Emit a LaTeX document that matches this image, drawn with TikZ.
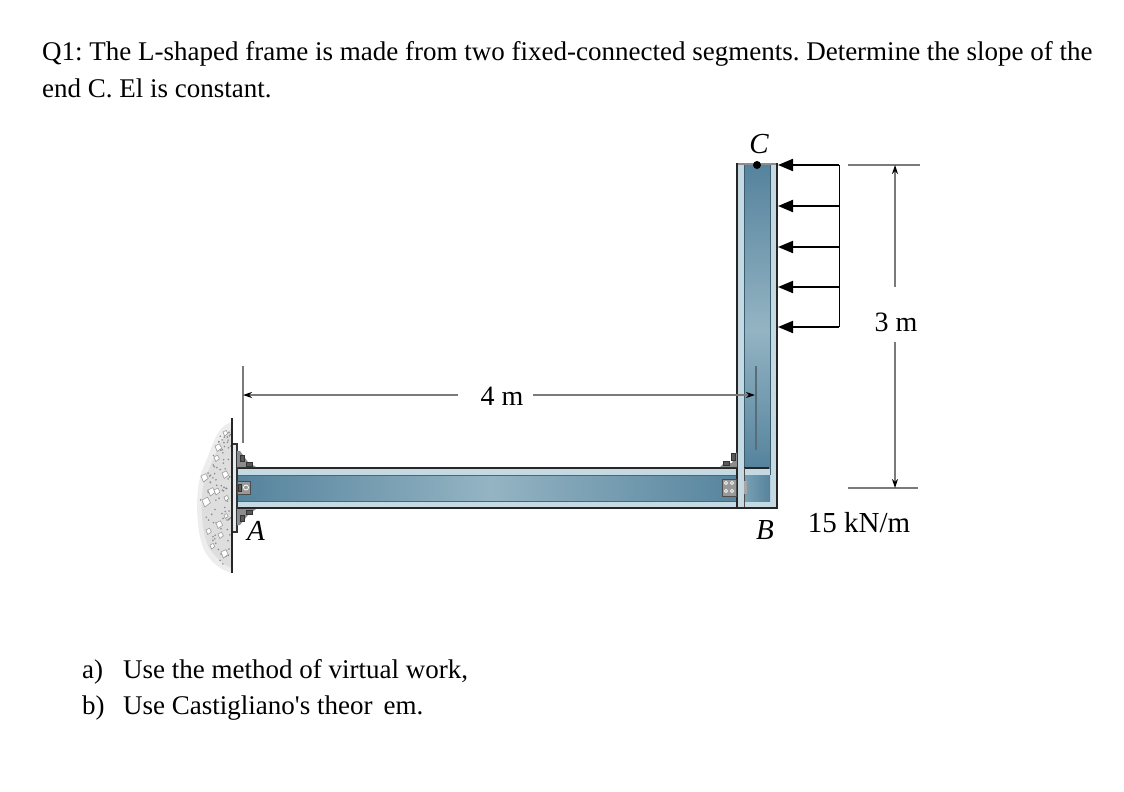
\documentclass[tikz,border=0pt]{standalone}
\usepackage{fontspec}
\setmainfont{Liberation Serif}
\newfontfamily\straightfont{Liberation Serif}
\frenchspacing
\usetikzlibrary{positioning,arrows.meta,calc,shapes.geometric}

\definecolor{webdark}{HTML}{55839D}
\definecolor{weblight}{HTML}{94B4C3}
\definecolor{flange}{HTML}{C5D9E2}
\definecolor{dimgray}{HTML}{7A7A7A}
\definecolor{rockgray}{HTML}{D8D8D8}

\newcommand{\itemlab}[1]{\makebox[41pt][l]{#1}}

\tikzset{
    txt/.style={inner sep=0pt, anchor=base west, font=\fontsize{27pt}{30pt}\selectfont},
    lbl/.style={inner sep=0pt, font=\fontsize{28pt}{30pt}\selectfont},
    pointlbl/.style={inner sep=0pt, font=\fontsize{29pt}{30pt}\selectfont\itshape},
    load/.style={line width=2pt, -{Triangle[length=15pt,width=12pt]}},
    dimline/.style={draw=dimgray, line width=1.2pt},
    dimarrow/.style={dimline, -{Stealth[length=9pt,width=6pt,black]}},
    steel/.style={draw=black!85, line width=2pt},
    bolt/.style={fill=black!65, draw=black!80, line width=.5pt},
}

\begin{document}
\begin{tikzpicture}[x=1pt,y=-1pt]
\useasboundingbox (0,0) rectangle (1124,792);

% question text
\node[txt] (q1) at (42,60) {Q1: The L-shaped frame is made from two fixed-connected segments. Determine the slope of the};
\node[txt] (q2) at (42,97) {end C. El is constant.};
\node[txt] (pa) at (82,678) {\itemlab{a)}Use the method of virtual work,};
\node[txt] (pb) at (82,714) {\itemlab{b)}Use Castigliano{\straightfont'}s theor\hspace{11pt}em.};

% concrete wall
\fill[rockgray!45] (232,422) .. controls (215,426) and (212,450) .. (203,468)
    .. controls (194,490) and (196,532) .. (204,550)
    .. controls (211,563) and (222,571) .. (232,573) -- cycle;
\fill[rockgray!85] (232,428) .. controls (220,436) and (216,456) .. (206,475)
    .. controls (199,495) and (201,530) .. (208,546)
    .. controls (214,556) and (224,566) .. (232,568) -- cycle;
\pgfmathsetseed{7}
\foreach \i in {1,...,90}{
    \pgfmathsetmacro{\ry}{432+rnd*134}
    \pgfmathsetmacro{\rx}{231-rnd*(10+22*(1-abs(\ry-498)/67))}
    \fill[black!45] (\rx,\ry) circle (.9);
}
\foreach \px/\py/\s in {223/432/.8,215/446/1.1,214/457/.9,222/473/1.1,201/476/1.2,208/490/1.2,214/490/1,202/500/1.4,224/497/.8,216/523/1.1,206/530/.9,218/534/.9,221/552/1.2,210/545/.8,224/515/.7}
    \draw[black!40, fill=white, line width=.6pt, shift={(\px,\py)}, scale=\s] (0,0) -- (4,-2) -- (6,2) -- (2,5) -- cycle;

% beam AB
\fill[flange] (237,469) rectangle (777,507);
\shade[left color=webdark, right color=webdark, middle color=weblight] (237,475) rectangle (744,501);
\draw[webdark!80!black, line width=.8pt] (237,475) -- (737,475) (237,501) -- (777,501);
\draw[steel] (237,468) -- (737,468);
\draw[steel] (237,507.5) -- (777,507.5);

% column BC
\fill[flange] (738,165) rectangle (777,507);
\shade[top color=webdark, bottom color=weblight] (744,165) rectangle (770,330);
\shade[top color=weblight, bottom color=webdark] (744,330) rectangle (770,468);
\fill[flange] (744,469) rectangle (770,475);
\shade[left color=weblight!60!webdark, right color=webdark] (744,475) rectangle (770,501);
\draw[webdark!70!black, line width=.8pt] (744,165) -- (744,468) (770,165) -- (770,475);
\draw[steel] (744,468) -- (769,468);
\draw[black!45, line width=1.2pt] (737,164) -- (777,164);
\draw[steel] (737,163) -- (737,507.5) (777,163) -- (777,508.5);
\draw[black!70, line width=.8pt] (744,468) -- (744,507);

% end plate and wall face
\draw[black!80, fill=flange!50!white, line width=1.2pt] (232,444) rectangle (237,532);
\draw[black!85, line width=1.8pt] (232,418) -- (232,573);

% angle brackets and bolts at A
\fill[black!45] (237,451) -- (240,451) -- (248,462) -- (256,467) -- (237,467) -- cycle;
\fill[black!45] (237,525) -- (240,525) -- (248,515) -- (256,509) -- (237,509) -- cycle;
\fill[bolt] (240,455) rectangle (244,461);
\fill[bolt] (246,462) rectangle (252,466);
\fill[bolt] (240,515) rectangle (244,521);
\fill[bolt] (246,510) rectangle (252,514);
\draw[black!70, fill=black!40] (237,481) rectangle (250,494);
\fill[bolt] (238,484) rectangle (241,491);
\draw[white, line width=.8pt] (246,487.5) circle (2.5);

% angle brackets and bolts at B
\fill[black!45] (720,467) -- (724,463) -- (732,463) -- (737,452) -- (737,467) -- cycle;
\fill[bolt] (723,461) rectangle (729,465);
\fill[bolt] (731,453) rectangle (735,460);
\draw[black!70, fill=black!40] (722,479) rectangle (736,496);
\draw[white, line width=.7pt] (726,483) circle (1.6) (732,483) circle (1.6) (726,491) circle (1.6) (732,491) circle (1.6);
\fill[black!35] (744,481) rectangle (747,494);

% point C
\node[circle, fill=black, inner sep=0pt, minimum size=8pt] (ptC) at (757,165) {};

% labels
\node[pointlbl] (lblC) at (759,144) {C};
\node[pointlbl] (lblA) at (256,531) {A};
\node[pointlbl] (lblB) at (765,530) {B};
\node[lbl] (dimFour) at (502,396) {4 m};
\node[lbl] (dimThree) at (896,322) {3 m};
\node[lbl, font=\fontsize{29pt}{30pt}\selectfont] (loadLbl) at (859,523) {15 kN/m};

% distributed load
\coordinate (loadTop) at (839,165);
\coordinate (loadBot) at (839,327);
\draw[black, line width=1pt] (loadTop) -- (loadBot);
\foreach \n/\y in {1/165,2/206,3/247,4/287,5/327}{
    \coordinate (tail\n) at (839,\y);
    \coordinate (tip\n) at (778,\y);
    \draw[load] (tail\n) -- (tip\n);
}

% dimensions
\coordinate (extAtop) at (243,366);
\coordinate (extAbot) at (243,443);
\coordinate (extBtop) at (756,366);
\coordinate (extBbot) at (756,450);
\coordinate (dimA) at (243,395);
\coordinate (dimB) at (755,395);
\coordinate (dimAin) at (458,395);
\coordinate (dimBin) at (533,395);
\draw[dimline] (extAtop) -- (extAbot);
\draw[draw=webdark!55!black!80, line width=1.2pt] (extBtop) -- (extBbot);
\draw[dimarrow] (dimAin) -- (dimA);
\draw[dimarrow] (dimBin) -- (dimB);

\coordinate (extCl) at (848,165);
\coordinate (extCr) at (920,165);
\coordinate (extBl) at (848,488);
\coordinate (extBr) at (918,488);
\coordinate (dimC) at (895,165);
\coordinate (dimD) at (895,488);
\coordinate (dimCin) at (895,287);
\coordinate (dimDin) at (895,342);
\draw[dimline] (extCl) -- (extCr);
\draw[dimline] (extBl) -- (extBr);
\draw[dimarrow] (dimCin) -- (dimC);
\draw[dimarrow] (dimDin) -- (dimD);
\end{tikzpicture}
\end{document}
